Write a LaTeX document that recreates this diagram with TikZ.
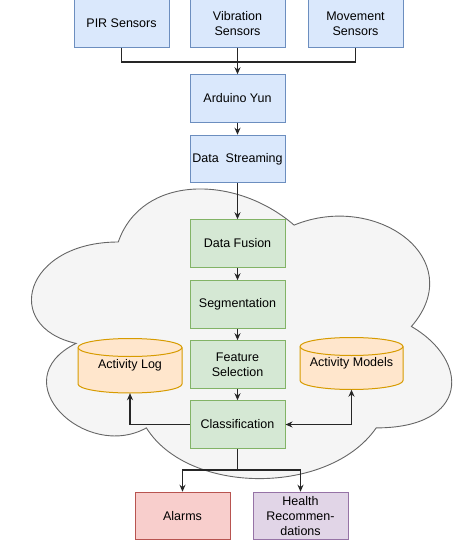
\documentclass[tikz,border=0pt]{standalone}
\usepackage{fontspec}
\setmainfont{Liberation Sans}
\usetikzlibrary{arrows.meta}
\definecolor{blueF}{HTML}{DAE8FC}\definecolor{blueS}{HTML}{6C8EBF}
\definecolor{greenF}{HTML}{D5E8D4}\definecolor{greenS}{HTML}{82B366}
\definecolor{orangeF}{HTML}{FFE6CC}\definecolor{orangeS}{HTML}{D79B00}
\definecolor{redF}{HTML}{F8CECC}\definecolor{redS}{HTML}{B85450}
\definecolor{purpF}{HTML}{E1D5E7}\definecolor{purpS}{HTML}{9673A6}
\definecolor{cloudF}{HTML}{F5F5F5}\definecolor{cloudS}{HTML}{666666}
\tikzset{
  box/.style={rectangle, draw, line width=1pt, minimum width=95pt, minimum height=47.5pt, inner sep=1pt, align=center, font=\fontsize{12.5}{15}\selectfont},
  bluebox/.style={box, fill=blueF, draw=blueS},
  greenbox/.style={box, fill=greenF, draw=greenS},
  redbox/.style={box, fill=redF, draw=redS},
  purpbox/.style={box, fill=purpF, draw=purpS},
  cyl/.style={fill=orangeF, draw=orangeS, line width=1pt},
  cyltext/.style={rectangle, inner sep=0pt, align=center, font=\fontsize{12.5}{15}\selectfont},
  conn/.style={line width=1.1pt, black!85},
  arr/.style={conn, -{Stealth[length=7pt,width=6pt]}},
  darr/.style={conn, {Stealth[length=7pt,width=6pt]}-{Stealth[length=7pt,width=6pt]}},
}
\begin{document}
\begin{tikzpicture}[x=1pt,y=-1pt]
\useasboundingbox (0,0) rectangle (474,540);
% cloud
\draw[fill=cloudF, draw=cloudS, line width=0.9pt]
  (118.25,242) .. controls (24.45,242) and (1,326.5) .. (76.04,343.4)
  .. controls (1,380.6) and (85.42,461.7) .. (146.39,427.9)
  .. controls (188.6,495.5) and (329.3,495.5) .. (376.2,427.9)
  .. controls (470,427.9) and (470,360.3) .. (411.4,326.5)
  .. controls (470,258.9) and (376.2,191.3) .. (294.1,225.1)
  .. controls (235.5,174.4) and (141.7,174.4) .. (118.25,242) -- cycle;
% boxes
\node[bluebox] (pir) at (121.5,23.5) {PIR Sensors};
\node[bluebox] (vib) at (237.5,23.5) {Vibration\\Sensors};
\node[bluebox] (mov) at (355.5,23.5) {Movement\\Sensors};
\node[bluebox] (ard) at (237.5,98.5) {Arduino Yun};
\node[bluebox] (ds) at (237.5,159) {Data~~Streaming};
\node[greenbox] (df) at (237.5,243.5) {Data Fusion};
\node[greenbox] (seg) at (237.5,304.5) {Segmentation};
\node[greenbox] (fs) at (237.5,364.5) {Feature\\Selection};
\node[greenbox] (cls) at (237.5,424.5) {Classification};
\node[redbox] (alarm) at (182.5,516) {Alarms};
\node[purpbox] (health) at (300.5,516) {Health\\Recommen-\\dations};
% cylinders
\path[cyl] (78,347.5) -- (78,384) arc[start angle=180, end angle=360, x radius=52pt, y radius=9pt] -- (182,347.5) arc[start angle=0, end angle=180, x radius=52pt, y radius=9pt] -- cycle;
\draw[cyl, fill=none] (78,347.5) arc[start angle=180, end angle=360, x radius=52pt, y radius=9pt];
\node[cyltext, minimum width=104pt, minimum height=55pt] (log) at (130,365.5) {Activity Log};
\path[cyl] (300,346.5) -- (300,380.5) arc[start angle=180, end angle=360, x radius=51.5pt, y radius=9pt] -- (403,346.5) arc[start angle=0, end angle=180, x radius=51.5pt, y radius=9pt] -- cycle;
\draw[cyl, fill=none] (300,346.5) arc[start angle=180, end angle=360, x radius=51.5pt, y radius=9pt];
\node[cyltext, minimum width=103pt, minimum height=52pt] (models) at (351.5,363.5) {Activity Models};
% connectors
\draw[conn] (pir.south) -- (121.5,62) -- (355.5,62) -- (mov.south);
\draw[arr] (vib.south) -- (ard.north);
\draw[arr] (ard.south) -- (ds.north);
\draw[arr] (ds.south) -- (df.north);
\draw[arr] (df.south) -- (seg.north);
\draw[arr] (seg.south) -- (fs.north);
\draw[arr] (fs.south) -- (cls.north);
\draw[arr] (cls.west) -| (log.south);
\draw[darr] (cls.east) -| (models.south);
\coordinate (split) at (237.5,470);
\draw[conn] (cls.south) -- (split);
\draw[arr] (split) -| (alarm.north);
\draw[arr] (split) -| (health.north);
\end{tikzpicture}
\end{document}
